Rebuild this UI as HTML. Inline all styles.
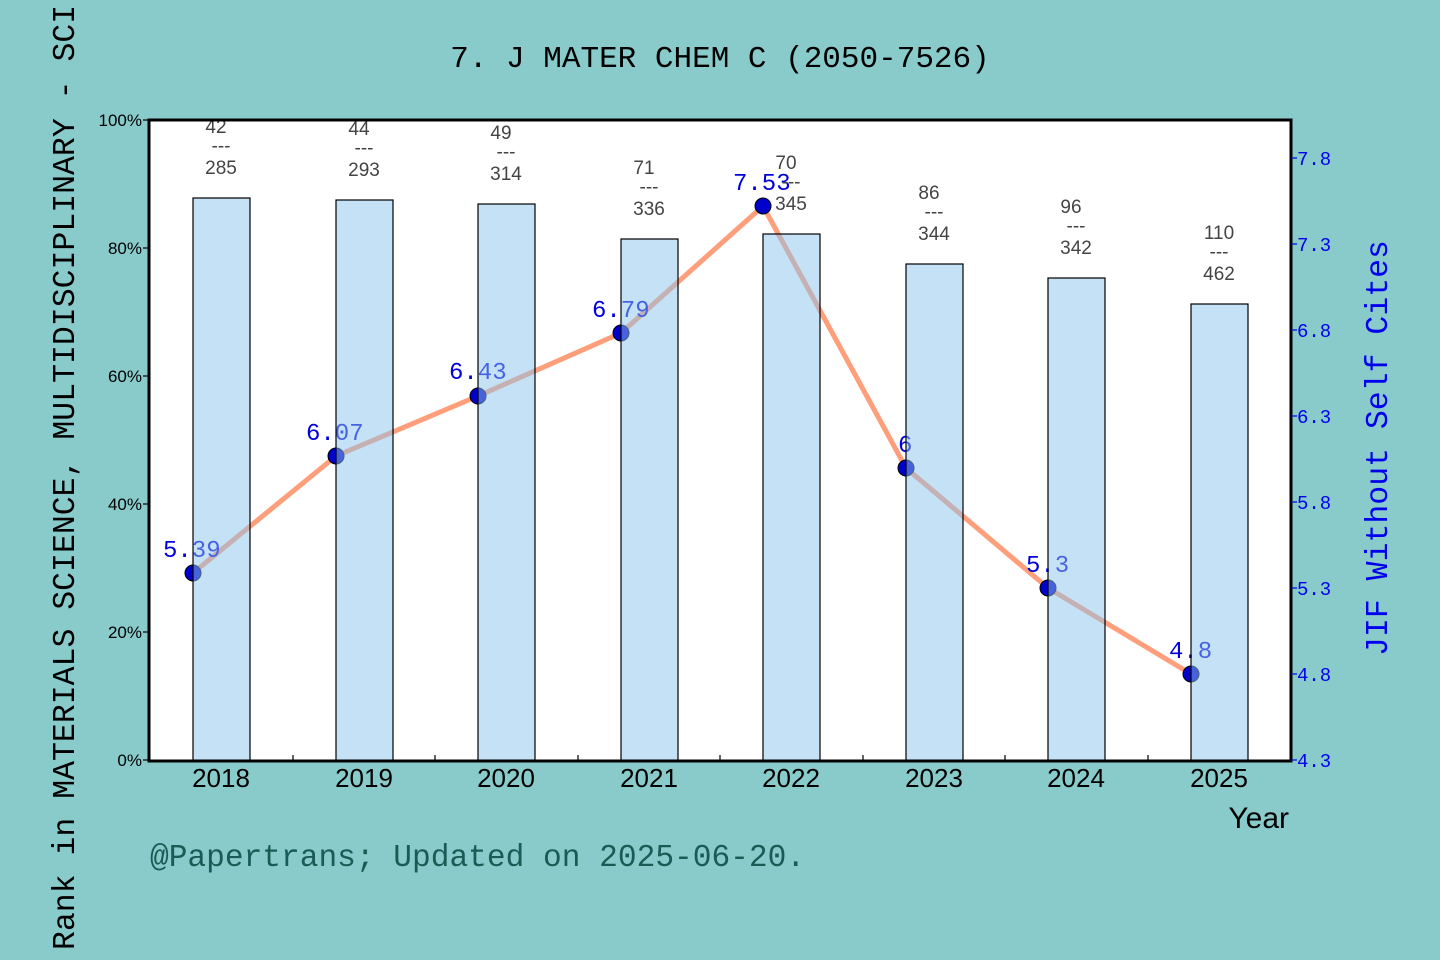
<!DOCTYPE html>
<html><head><meta charset="utf-8"><style>body{margin:0;background:#88cbca}svg{display:block}</style></head><body>
<svg width="1440" height="960" xmlns="http://www.w3.org/2000/svg" font-family="Liberation Sans, DejaVu Sans, sans-serif">
<rect x="0" y="0" width="1440" height="960" fill="#88cbca"/>
<text x="720" y="67" font-size="31" text-anchor="middle" font-family="Liberation Mono, monospace">7. J MATER CHEM C (2050-7526)</text>
<rect x="149" y="120" width="1142" height="641" fill="#fff"/>
<polyline points="193,573 336,456 478,396 621,333 763,206 906,468 1048,588 1191,674" fill="none" stroke="#ff9e7a" stroke-width="5"/>
<g fill="#0000cc" stroke="#000" stroke-width="1">
<circle cx="193" cy="573" r="8"/><circle cx="336" cy="456" r="8"/><circle cx="478" cy="396" r="8"/><circle cx="621" cy="333" r="8"/><circle cx="763" cy="206" r="8"/><circle cx="906" cy="468" r="8"/><circle cx="1048" cy="588" r="8"/><circle cx="1191" cy="674" r="8"/></g>
<g fill="#0000dd" font-size="24" font-family="Liberation Mono, monospace">
<text x="163" y="557">5.39</text><text x="306" y="440">6.07</text><text x="449" y="379">6.43</text><text x="592" y="317">6.79</text><text x="733" y="190">7.53</text><text x="898" y="452">6</text><text x="1026" y="572">5.3</text><text x="1169" y="658">4.8</text></g>
<g fill="rgba(140,195,236,0.5)" stroke="#000" stroke-width="1.2">
<rect x="193" y="198" width="57" height="563"/><rect x="336" y="200" width="57" height="561"/><rect x="478" y="204" width="57" height="557"/><rect x="621" y="239" width="57" height="522"/><rect x="763" y="234" width="57" height="527"/><rect x="906" y="264" width="57" height="497"/><rect x="1048" y="278" width="57" height="483"/><rect x="1191" y="304" width="57" height="457"/></g>
<g fill="#444" font-size="19" text-anchor="middle">
<text x="216" y="133">42</text><text x="221" y="152">---</text><text x="221" y="174">285</text>
<text x="359" y="135">44</text><text x="364" y="154">---</text><text x="364" y="176">293</text>
<text x="501" y="139">49</text><text x="506" y="158">---</text><text x="506" y="180">314</text>
<text x="644" y="174">71</text><text x="649" y="193">---</text><text x="649" y="215">336</text>
<text x="786" y="169">70</text><text x="791" y="188">---</text><text x="791" y="210">345</text>
<text x="929" y="199">86</text><text x="934" y="218">---</text><text x="934" y="240">344</text>
<text x="1071" y="213">96</text><text x="1076" y="232">---</text><text x="1076" y="254">342</text>
<text x="1219" y="239">110</text><text x="1219" y="258">---</text><text x="1219" y="280">462</text></g>
<rect x="149" y="120" width="1142" height="641" fill="none" stroke="#000" stroke-width="3"/>
<g stroke="#000" stroke-width="1.2">
<line x1="149" y1="120" x2="143" y2="120"/><line x1="149" y1="248" x2="143" y2="248"/><line x1="149" y1="376" x2="143" y2="376"/><line x1="149" y1="504" x2="143" y2="504"/><line x1="149" y1="632" x2="143" y2="632"/><line x1="149" y1="760" x2="143" y2="760"/>
<line x1="293" y1="761" x2="293" y2="755"/><line x1="435" y1="761" x2="435" y2="755"/><line x1="578" y1="761" x2="578" y2="755"/><line x1="720" y1="761" x2="720" y2="755"/><line x1="863" y1="761" x2="863" y2="755"/><line x1="1005" y1="761" x2="1005" y2="755"/><line x1="1148" y1="761" x2="1148" y2="755"/></g>
<g stroke="#0000ee" stroke-width="1.2">
<line x1="1291" y1="158" x2="1297" y2="158"/><line x1="1291" y1="244" x2="1297" y2="244"/><line x1="1291" y1="330" x2="1297" y2="330"/><line x1="1291" y1="416" x2="1297" y2="416"/><line x1="1291" y1="502" x2="1297" y2="502"/><line x1="1291" y1="588" x2="1297" y2="588"/><line x1="1291" y1="674" x2="1297" y2="674"/><line x1="1291" y1="760" x2="1297" y2="760"/></g>
<g font-size="17" text-anchor="end">
<text x="142" y="126">100%</text><text x="142" y="254">80%</text><text x="142" y="382">60%</text><text x="142" y="510">40%</text><text x="142" y="638">20%</text><text x="142" y="766">0%</text></g>
<g font-size="19" fill="#0000ee" font-family="Liberation Mono, monospace">
<text x="1297" y="165">7.8</text><text x="1297" y="251">7.3</text><text x="1297" y="337">6.8</text><text x="1297" y="423">6.3</text><text x="1297" y="509">5.8</text><text x="1297" y="595">5.3</text><text x="1297" y="681">4.8</text><text x="1297" y="767">4.3</text></g>
<g font-size="26" text-anchor="middle">
<text x="221" y="787">2018</text><text x="364" y="787">2019</text><text x="506" y="787">2020</text><text x="649" y="787">2021</text><text x="791" y="787">2022</text><text x="934" y="787">2023</text><text x="1076" y="787">2024</text><text x="1219" y="787">2025</text></g>
<text x="1289" y="828" font-size="30" text-anchor="end">Year</text>
<text x="150" y="866" font-size="31.2" fill="#1a5c55" font-family="Liberation Mono, monospace">@Papertrans; Updated on 2025-06-20.</text>
<text transform="translate(74,950) rotate(-90)" font-size="31.5" font-family="Liberation Mono, monospace">Rank in MATERIALS SCIENCE, MULTIDISCIPLINARY - SCI</text>
<text transform="translate(1387,448) rotate(-90)" font-size="31.5" fill="#0000ee" text-anchor="middle" font-family="Liberation Mono, monospace">JIF Without Self Cites</text>
</svg>
</body></html>
